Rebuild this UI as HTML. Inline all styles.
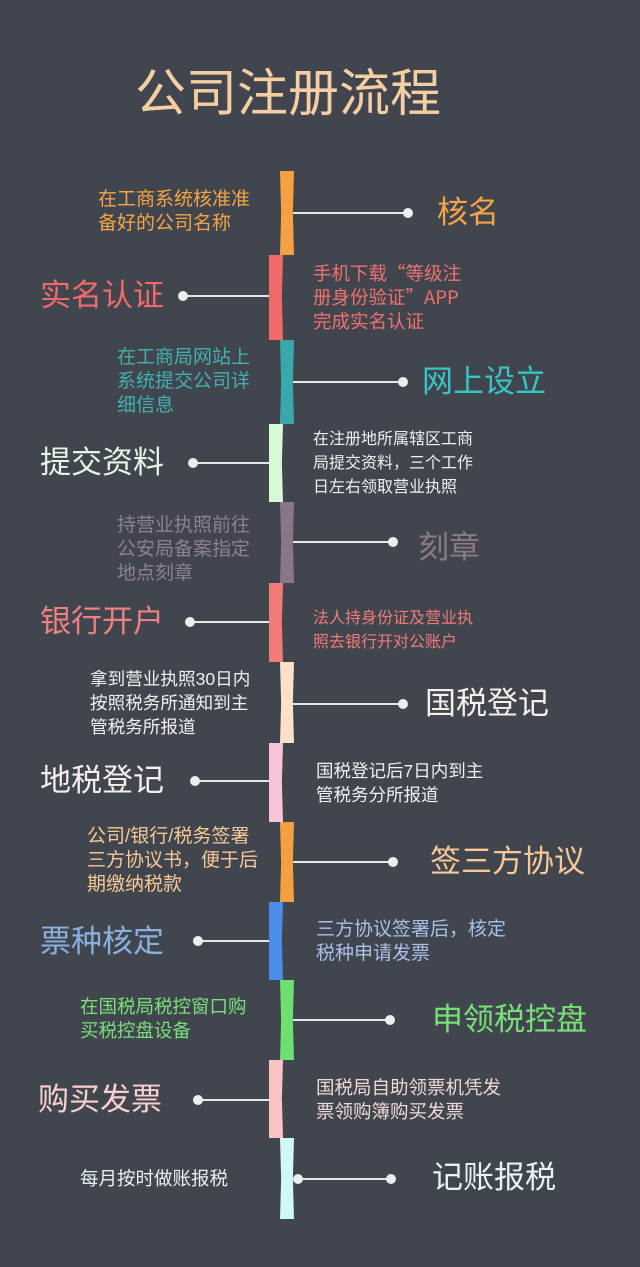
<!DOCTYPE html>
<html><head><meta charset="utf-8"><style>
body{margin:0;width:640px;height:1267px;background:#41464e;position:relative;overflow:hidden;font-family:"Liberation Sans","Noto Sans CJK SC",sans-serif}
div{position:absolute;white-space:nowrap}
.t{left:135px;top:64px;font-size:51px;line-height:60px;color:#f5cfa3}
.s{font-size:18.5px;line-height:24px}
.b{font-size:31px;line-height:36px}
.seg{width:14px}
.R{left:280px;clip-path:polygon(0 0,100% 0,92% 50%,100% 100%,0 100%,8% 50%)}
.L{left:269px;clip-path:polygon(0 0,100% 0,92% 50%,100% 100%,0 100%)}
.ln{height:2px;background:#e8e8e8}
.d{width:10px;height:10px;border-radius:50%;background:#eee}
</style></head><body>
<div class="t">公司注册流程</div>

<div class="seg R" style="top:171px;height:84px;background:#f5a043"></div>
<div class="ln" style="left:293px;top:212px;width:114px"></div><div class="d" style="left:403px;top:208px"></div>
<div class="b" style="left:437px;top:195px;color:#f5a447">核名</div>
<div class="s" style="left:98px;top:188px;color:#f5a447;font-size:19px">在工商系统核准准<br>备好的公司名称</div>

<div class="seg L" style="top:255px;height:85px;background:#f06a6a"></div>
<div class="ln" style="left:183px;top:295px;width:86px"></div><div class="d" style="left:178px;top:291px"></div>
<div class="b" style="left:40px;top:278px;color:#f06a6c">实名认证</div>
<div class="s" style="left:313px;top:261px;color:#f07070;font-family:'Noto Sans CJK SC',sans-serif">手机下载“等级注<br>册身份验证”APP<br>完成实名认证</div>

<div class="seg R" style="top:340px;height:84px;background:#3aa8aa"></div>
<div class="ln" style="left:293px;top:381px;width:110px"></div><div class="d" style="left:398px;top:377px"></div>
<div class="b" style="left:422px;top:364px;color:#35c6c8">网上设立</div>
<div class="s" style="left:117px;top:346px;color:#40b0b0;font-size:19px">在工商局网站上<br>系统提交公司详<br>细信息</div>

<div class="seg L" style="top:424px;height:78px;background:#d8f8d8"></div>
<div class="ln" style="left:193px;top:462px;width:76px"></div><div class="d" style="left:188px;top:458px"></div>
<div class="b" style="left:40px;top:445px;color:#e8f4e8">提交资料</div>
<div class="s" style="left:313px;top:428px;color:#f0f0f0;font-size:16px">在注册地所属辖区工商<br>局提交资料，三个工作<br>日左右领取营业执照</div>

<div class="seg R" style="top:502px;height:81px;background:#8a7686"></div>
<div class="ln" style="left:293px;top:541px;width:100px"></div><div class="d" style="left:388px;top:537px"></div>
<div class="b" style="left:418px;top:530px;color:#8a7a88">刻章</div>
<div class="s" style="left:117px;top:514px;color:#8d8090;font-size:19px">持营业执照前往<br>公安局备案指定<br>地点刻章</div>

<div class="seg L" style="top:583px;height:79px;background:#f27a78"></div>
<div class="ln" style="left:190px;top:621px;width:79px"></div><div class="d" style="left:185px;top:617px"></div>
<div class="b" style="left:40px;top:604px;color:#f08080">银行开户</div>
<div class="s" style="left:313px;top:607px;color:#f07a7a;font-size:16px">法人持身份证及营业执<br>照去银行开对公账户</div>

<div class="seg R" style="top:662px;height:81px;background:#fde0c8"></div>
<div class="ln" style="left:293px;top:703px;width:110px"></div><div class="d" style="left:398px;top:699px"></div>
<div class="b" style="left:425px;top:686px;color:#f4f0ec">国税登记</div>
<div class="s" style="left:90px;top:667px;color:#f0f0f0;font-size:17.6px">拿到营业执照30日内<br>按照税务所通知到主<br>管税务所报道</div>

<div class="seg L" style="top:743px;height:79px;background:#f8c4da"></div>
<div class="ln" style="left:195px;top:780px;width:74px"></div><div class="d" style="left:190px;top:776px"></div>
<div class="b" style="left:40px;top:763px;color:#f4f0f0">地税登记</div>
<div class="s" style="left:316px;top:759px;color:#f0f0f0;font-size:17.5px">国税登记后7日内到主<br>管税务分所报道</div>

<div class="seg R" style="top:822px;height:80px;background:#f5a040"></div>
<div class="ln" style="left:293px;top:861px;width:100px"></div><div class="d" style="left:388px;top:857px"></div>
<div class="b" style="left:430px;top:844px;color:#f6c898">签三方协议</div>
<div class="s" style="left:87px;top:825px;color:#f6c898;font-size:19px">公司/银行/税务签署<br>三方协议书，便于后<br>期缴纳税款</div>

<div class="seg L" style="top:902px;height:78px;background:#4a8ee8"></div>
<div class="ln" style="left:198px;top:940px;width:71px"></div><div class="d" style="left:193px;top:936px"></div>
<div class="b" style="left:40px;top:924px;color:#8ab0e0">票种核定</div>
<div class="s" style="left:316px;top:918px;color:#a8c0e8;font-size:19px">三方协议签署后，核定<br>税种申请发票</div>

<div class="seg R" style="top:980px;height:80px;background:#6ee070"></div>
<div class="ln" style="left:293px;top:1019px;width:97px"></div><div class="d" style="left:385px;top:1015px"></div>
<div class="b" style="left:432px;top:1002px;color:#78e078">申领税控盘</div>
<div class="s" style="left:80px;top:995px;color:#78e078">在国税局税控窗口购<br>买税控盘设备</div>

<div class="seg L" style="top:1060px;height:78px;background:#f8c4c4"></div>
<div class="ln" style="left:198px;top:1099px;width:71px"></div><div class="d" style="left:193px;top:1095px"></div>
<div class="b" style="left:38px;top:1082px;color:#f8d0d0">购买发票</div>
<div class="s" style="left:316px;top:1076px;color:#f0d8d8">国税局自助领票机凭发<br>票领购簿购买发票</div>

<div class="seg R" style="top:1138px;height:81px;background:#d0f8f8"></div>
<div class="ln" style="left:298px;top:1178px;width:93px"></div><div class="d" style="left:293px;top:1174px"></div><div class="d" style="left:386px;top:1174px"></div>
<div class="b" style="left:432px;top:1160px;color:#e8f4f4">记账报税</div>
<div class="s" style="left:80px;top:1167px;color:#e8f0f0">每月按时做账报税</div>
</body></html>
